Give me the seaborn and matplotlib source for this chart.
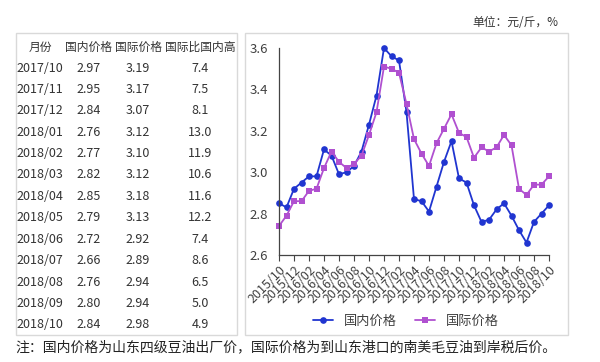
import pandas as pd
import matplotlib
matplotlib.use('Agg')
import matplotlib.pyplot as plt
from matplotlib.patches import Rectangle
import seaborn as sns
import numpy as np

# table data
tbl_months = ['2017/10', '2017/11', '2017/12', '2018/01', '2018/02', '2018/03', '2018/04',
              '2018/05', '2018/06', '2018/07', '2018/08', '2018/09', '2018/10']
tbl_domestic = [2.97, 2.95, 2.84, 2.76, 2.77, 2.82, 2.85, 2.79, 2.72, 2.66, 2.76, 2.80, 2.84]
tbl_intl = [3.19, 3.17, 3.07, 3.12, 3.10, 3.12, 3.18, 3.13, 2.92, 2.89, 2.94, 2.94, 2.98]
tbl_gap = [7.4, 7.5, 8.1, 13.0, 11.9, 10.6, 11.6, 12.2, 7.4, 8.6, 6.5, 5.0, 4.9]
tbl_header = ['月份', '国内价格', '国际价格', '国际比国内高']

# chart data, monthly 2015/10 - 2018/10
months = pd.period_range('2015-10', '2018-10', freq='M').strftime('%Y/%m').tolist()
domestic = [2.85, 2.83, 2.92, 2.95, 2.98, 2.98, 3.11, 3.08, 2.99, 3.00, 3.03, 3.10,
            3.23, 3.37, 3.60, 3.56, 3.54, 3.29, 2.87, 2.86, 2.81, 2.93, 3.05, 3.15,
            2.97, 2.95, 2.84, 2.76, 2.77, 2.82, 2.85, 2.79, 2.72, 2.66, 2.76, 2.80, 2.84]
international = [2.74, 2.79, 2.86, 2.86, 2.91, 2.92, 3.02, 3.10, 3.05, 3.02, 3.04, 3.08,
                 3.18, 3.29, 3.51, 3.50, 3.48, 3.33, 3.16, 3.09, 3.03, 3.14, 3.21, 3.28,
                 3.19, 3.17, 3.07, 3.12, 3.10, 3.12, 3.18, 3.13, 2.92, 2.89, 2.94, 2.94, 2.98]

BLUE = '#2035d0'
PURPLE = '#b050d0'

sns.set_style('white')
plt.rcParams['font.family'] = ['Noto Sans CJK SC', 'DejaVu Sans']

W, H = 600, 362
fig = plt.figure(figsize=(6, 3.62), dpi=100)


def fx(px):
    return px / W


def fy(py):
    return 1 - py / H


# boxes around table and chart
for x0, x1 in [(16, 237), (245, 568)]:
    fig.patches.append(Rectangle((fx(x0), fy(335)), fx(x1 - x0), (335 - 33) / H,
                                 transform=fig.transFigure, fill=False,
                                 edgecolor='#d9d9d9', lw=1))

# table
col_x = [40, 89, 138, 200]
for cx, h in zip(col_x, tbl_header):
    fig.text(fx(cx), fy(47), h, ha='center', va='center', fontsize=8.5, color='#333333')
for i in range(len(tbl_months)):
    y = fy(68 + i * 21.4)
    row = [tbl_months[i], f'{tbl_domestic[i]:.2f}', f'{tbl_intl[i]:.2f}', f'{tbl_gap[i]:.1f}']
    for cx, s in zip(col_x, row):
        fig.text(fx(cx), y, s, ha='center', va='center', fontsize=9, color='#333333')

# line chart
df = pd.DataFrame({'pos': np.arange(len(months)), 'month': months,
                   '国内价格': domestic, '国际价格': international})
ax = fig.add_axes([fx(279), fy(255), fx(549 - 279), (255 - 48) / H])
sns.lineplot(data=df, x='pos', y='国内价格', ax=ax, color=BLUE, marker='o', markersize=4.8,
             markeredgewidth=0, lw=1.3, label='国内价格', clip_on=False)
sns.lineplot(data=df, x='pos', y='国际价格', ax=ax, color=PURPLE, marker='s', markersize=4.5,
             markeredgewidth=0, lw=1.3, label='国际价格', clip_on=False)
ax.set_xlim(0, len(months) - 1)
ax.set_ylim(2.6, 3.6)
yt = [2.6, 2.8, 3.0, 3.2, 3.4, 3.6]
ax.set_yticks(yt)
ax.set_yticklabels([f'{v:.1f}' for v in yt])
ax.set_xticks(df['pos'][::2])
ax.set_xticklabels(df['month'][::2], rotation=45, ha='right', rotation_mode='anchor')
ax.set_xlabel('')
ax.set_ylabel('')
for s in ['top', 'right']:
    ax.spines[s].set_visible(False)
for s in ['left', 'bottom']:
    ax.spines[s].set_color('#444444')
    ax.spines[s].set_linewidth(0.9)
ax.tick_params(axis='y', length=0, pad=8, labelsize=9.5, labelcolor='#404040')
ax.tick_params(axis='x', length=4, width=0.8, color='#444444', pad=2, labelsize=9, labelcolor='#404040',
               bottom=True)
ax.legend(loc='center', bbox_to_anchor=(fx(406), fy(321)), bbox_transform=fig.transFigure,
          ncol=2, frameon=False, fontsize=9.5, handlelength=1.5, columnspacing=1.4)
for t in ax.get_legend().get_texts():
    t.set_color('#404040')

fig.text(fx(558), fy(22), '单位：元/斤，%', ha='right', va='center', fontsize=8.5, color='#333333')
fig.text(fx(15), fy(347), '注：国内价格为山东四级豆油出厂价，国际价格为到山东港口的南美毛豆油到岸税后价。',
         ha='left', va='center', fontsize=10, color='#222222')

fig.savefig('out.png', dpi=100)
